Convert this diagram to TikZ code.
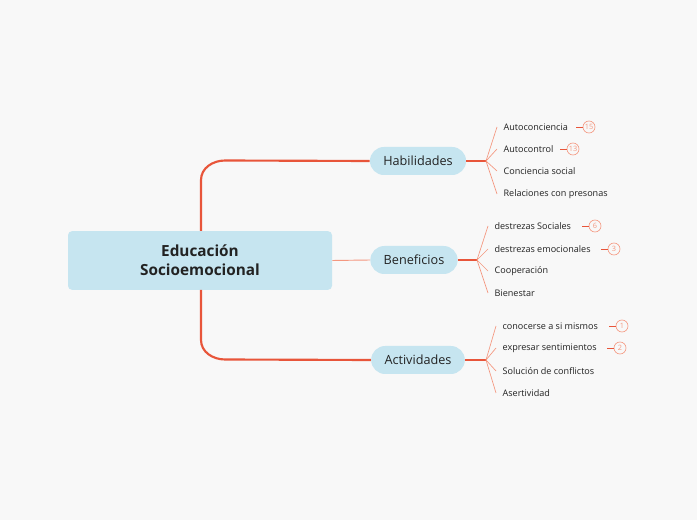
\documentclass[tikz,border=0pt]{standalone}
\usepackage{fontspec}
\setmainfont{Open Sans}
\usetikzlibrary{positioning}
\definecolor{bg}{HTML}{F8F8F8}
\definecolor{nodeblue}{HTML}{C6E5F0}
\definecolor{redline}{HTML}{E8553A}
\definecolor{thinline}{HTML}{F4977F}
\definecolor{txt}{HTML}{222222}
\begin{document}
\begin{tikzpicture}[x=0.75pt,y=-0.75pt,
  central/.style={fill=nodeblue,rounded corners=3pt,minimum width=198pt,minimum height=44pt,align=center,font=\fontsize{11.5pt}{14pt}\selectfont\bfseries,text=txt},
  pill/.style={fill=nodeblue,rounded corners=10.5pt,minimum height=21pt,font=\fontsize{9.5pt}{11pt}\selectfont,text=txt,inner xsep=10pt},
  leaf/.style={anchor=west,font=\fontsize{6.8pt}{8pt}\selectfont,text=txt,inner sep=1pt},
  badge/.style={circle,draw=thinline,line width=0.5pt,inner sep=0pt,minimum size=9pt,font=\fontsize{5.5pt}{6pt}\selectfont,text=thinline},
  main/.style={draw=redline,line width=1.6pt},
  mid/.style={draw=thinline,line width=0.7pt},
  stub/.style={draw=redline,line width=1.2pt},
  twig/.style={draw=thinline,line width=0.5pt}]
\fill[bg] (0,0) rectangle (697,520);
\useasboundingbox (0,0) rectangle (697,520);
\node[central] (c) at (200,260.5) {Educación\\Socioemocional};
\node[pill] (h) at (418,161) {Habilidades};
\node[pill] (b) at (414,260) {Beneficios};
\node[pill] (a) at (418,360) {Actividades};
\coordinate (ct) at (201,231);
\coordinate (cb) at (201,290);
\draw[main] (ct) -- (201,180) to[out=90,in=180] (225,160.5) -- (h.west);
\draw[main] (cb) -- (201,340) to[out=-90,in=180] (225,359.5) -- (a.west);
\draw[mid] (c.east) -- (b.west);
% junctions
\coordinate (hj) at (486,161);
\coordinate (bj) at (477,260);
\coordinate (aj) at (486,360);
\draw[stub] (h.east) -- (hj);
\draw[stub] (b.east) -- (bj);
\draw[stub] (a.east) -- (aj);
% Habilidades leaves
\node[leaf] (h1) at (502,127) {Autoconciencia};
\node[leaf] (h2) at (502,149) {Autocontrol};
\node[leaf] (h3) at (502,171) {Conciencia social};
\node[leaf] (h4) at (502,194) {Relaciones con presonas};
\foreach \n/\y in {h1/127,h2/149,h3/171,h4/194}{\draw[twig] (hj) -- (497,\y);}
% Beneficios leaves
\node[leaf] (b1) at (493,226) {destrezas Sociales};
\node[leaf] (b2) at (493,249) {destrezas emocionales};
\node[leaf] (b3) at (493,271) {Cooperación};
\node[leaf] (b4) at (493,293) {Bienestar};
\foreach \n/\y in {b1/226,b2/249,b3/271,b4/293}{\draw[twig] (bj) -- (488,\y);}
% Actividades leaves
\node[leaf] (a1) at (501,326) {conocerse a si mismos};
\node[leaf] (a2) at (501,348) {expresar sentimientos};
\node[leaf] (a3) at (501,371) {Solución de conflictos};
\node[leaf] (a4) at (501,393) {Asertividad};
\foreach \n/\y in {a1/326,a2/348,a3/371,a4/393}{\draw[twig] (aj) -- (496,\y);}
% badges
\node[badge] (n15) at (589,127) {15};
\node[badge] (n13) at (573,149) {13};
\node[badge] (n6) at (595,226) {6};
\node[badge] (n3) at (614,249) {3};
\node[badge] (n1) at (622,326) {1};
\node[badge] (n2) at (620,348) {2};
\foreach \b in {n15,n13,n6,n3,n1,n2}{\draw[redline,line width=0.7pt] (\b.west) -- ++(-7,0);}
\end{tikzpicture}
\end{document}
